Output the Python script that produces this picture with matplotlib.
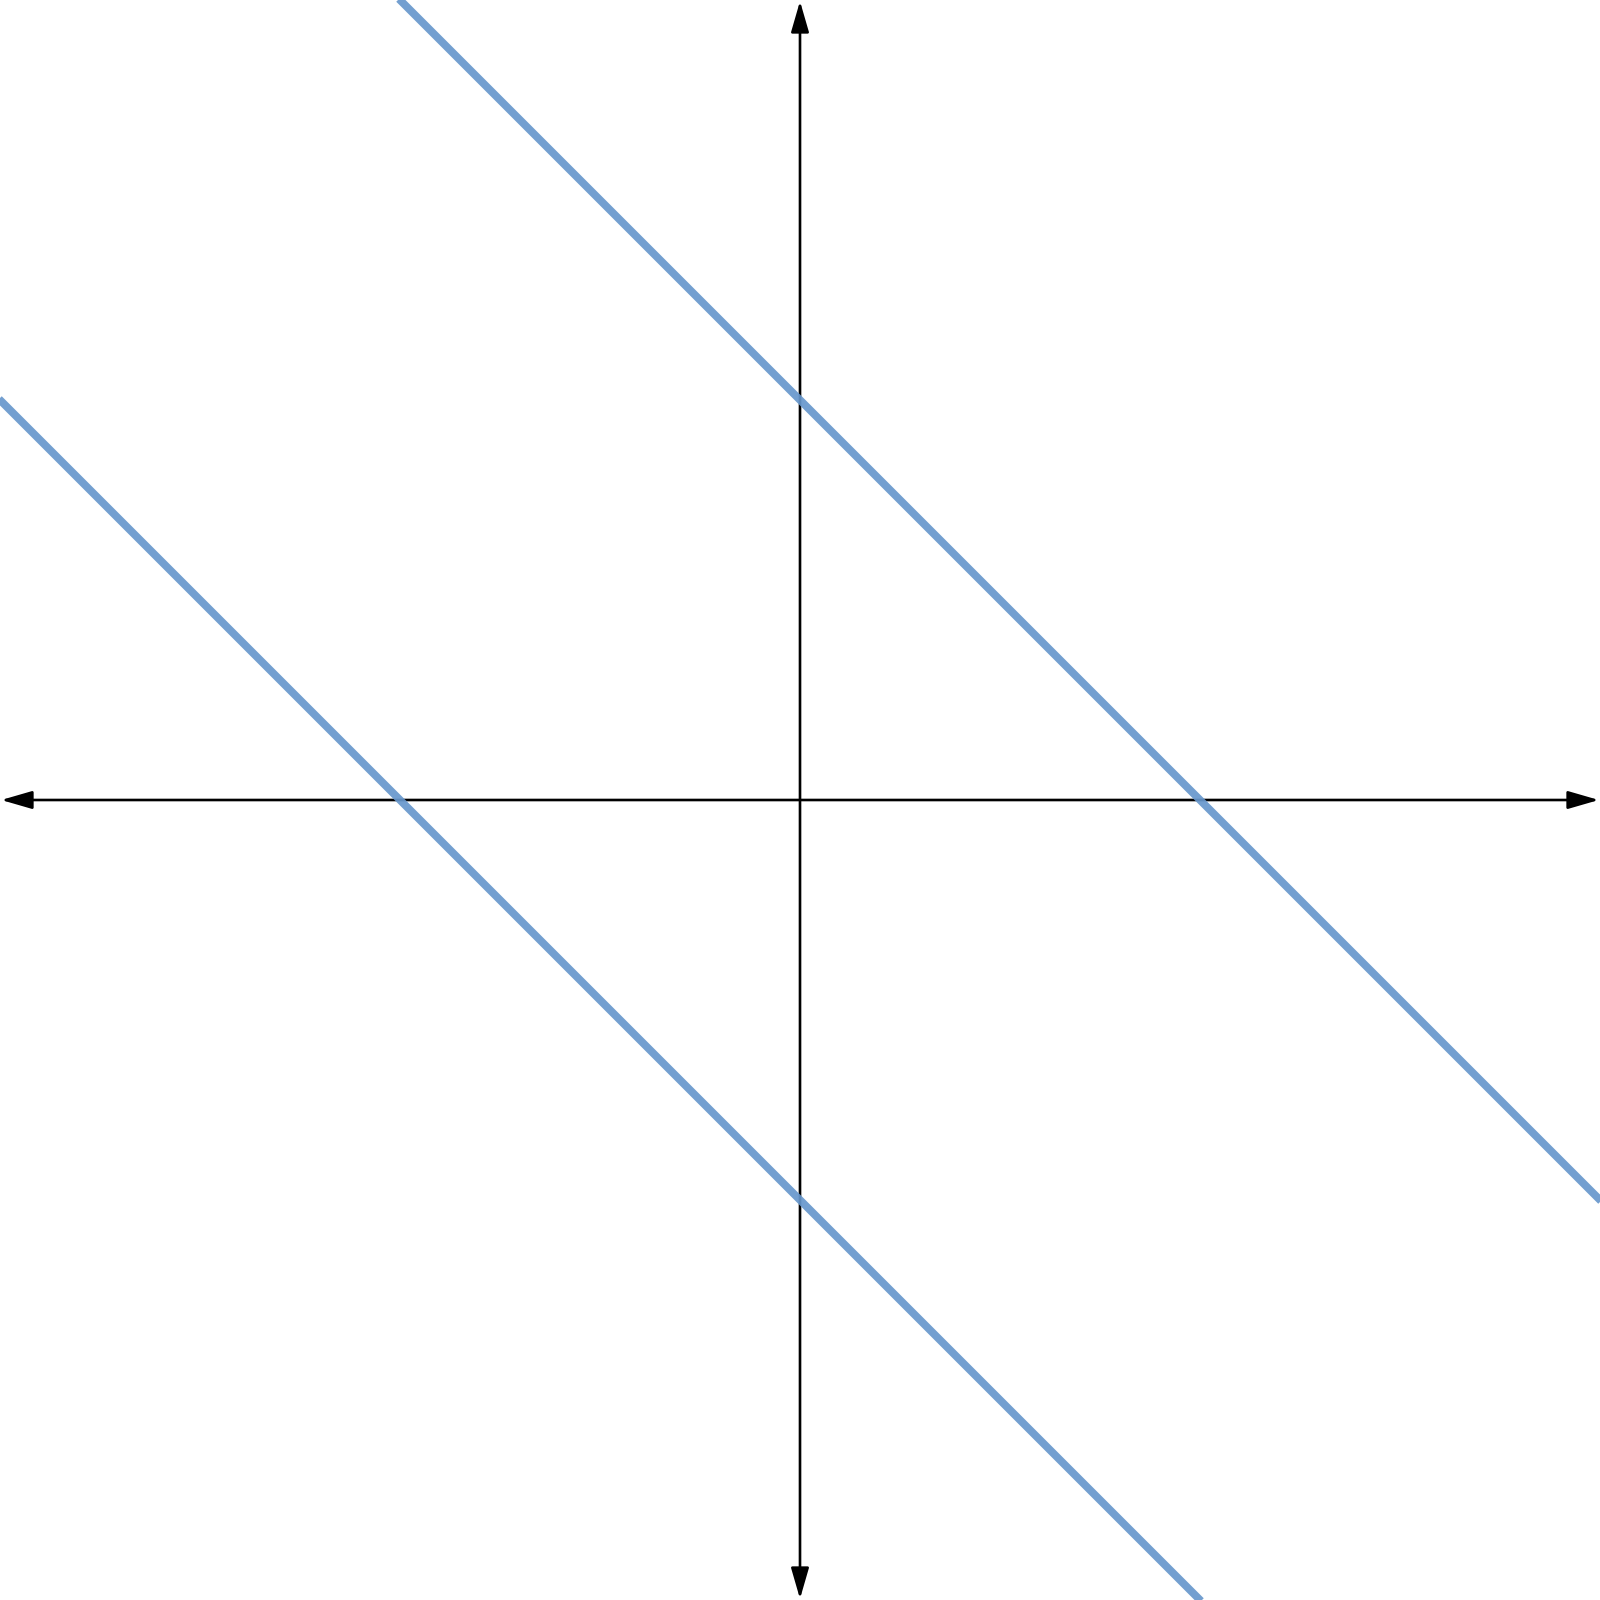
import matplotlib
matplotlib.use("Agg")
import matplotlib.pyplot as plt
import numpy as np

# Lines y = slope*x + intercept
slope = -1.0
intercepts = [1.0, -1.0]
x_range = [-2.0, 2.0]
y_range = [-2.0, 2.0]

fig = plt.figure(figsize=(16, 16), dpi=100)
ax = fig.add_axes([0, 0, 1, 1])
ax.set_xlim(x_range)
ax.set_ylim(y_range)
ax.axis("off")

arrow_kw = dict(arrowstyle="<|-|>,head_length=1.9,head_width=0.55",
                color="black", lw=1.9, shrinkA=0, shrinkB=0, mutation_scale=10)
ext = 1.997
ax.annotate("", xy=(ext, 0), xytext=(-ext, 0), arrowprops=arrow_kw)
ax.annotate("", xy=(0, ext), xytext=(0, -ext), arrowprops=arrow_kw)

xs = np.array([x_range[0] - 1, x_range[1] + 1])
for b in intercepts:
    ax.plot(xs, slope * xs + b, color="#6797cc", lw=5.6, alpha=0.92,
            solid_capstyle="butt", zorder=5)

fig.savefig("out.png", dpi=100)
